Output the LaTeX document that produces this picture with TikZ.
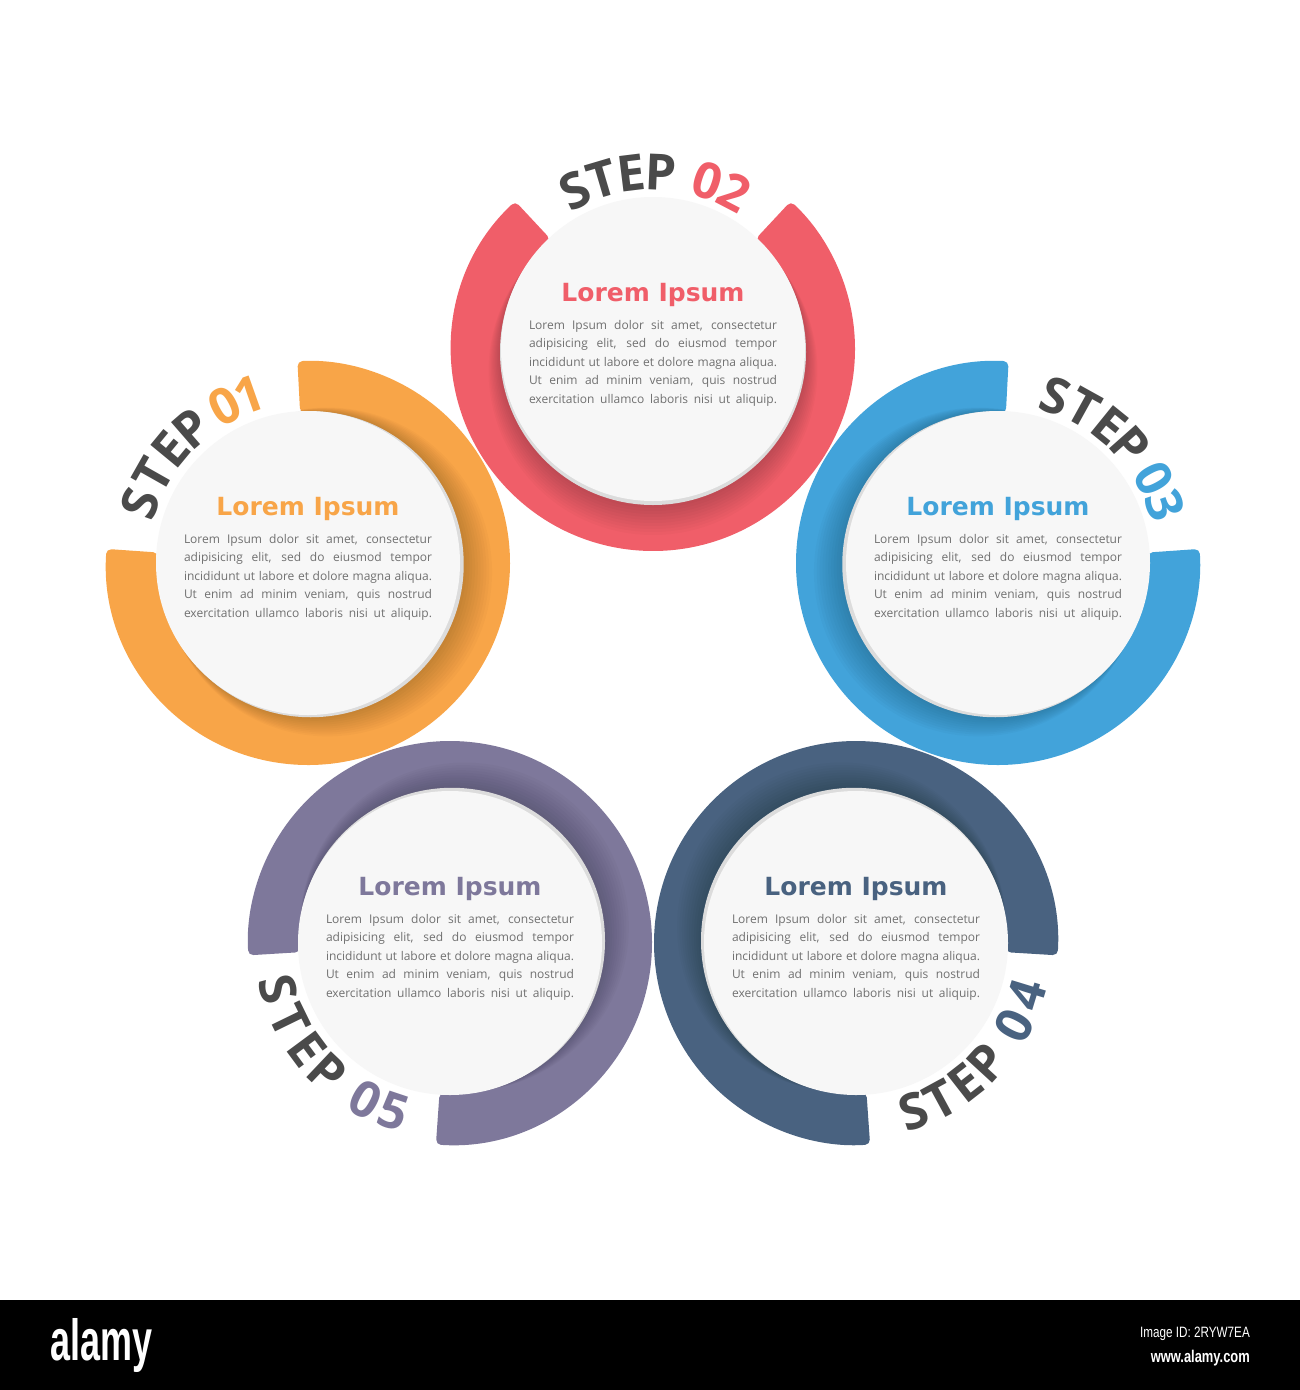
\documentclass[tikz,border=0pt]{standalone}
\usepackage{fontspec}
\setmainfont{Open Sans}
\newfontfamily\titlefont{DejaVu Sans}
\newfontfamily\stepfont{Open Sans}
\newfontfamily\logofont{Liberation Sans}
\definecolor{cOrange}{HTML}{F8A548}
\definecolor{cRed}{HTML}{F05E69}
\definecolor{cBlue}{HTML}{42A3DA}
\definecolor{cNavy}{HTML}{496280}
\definecolor{cPurple}{HTML}{7E789B}
\definecolor{stepgray}{HTML}{4A4A4A}
\definecolor{bodygray}{HTML}{707070}
\definecolor{disc}{HTML}{F7F7F7}
\definecolor{rim}{HTML}{DCDCDC}
\tikzset{
  ltitle/.style={font=\titlefont\bfseries\fontsize{25}{25}\selectfont, inner sep=0pt, anchor=base},
  bodyline/.style={font=\fontsize{12}{12}\selectfont, text=bodygray, inner sep=0pt, anchor=base},
  steptxt/.style={font=\stepfont\bfseries\fontsize{50}{50}\selectfont, inner sep=0pt, anchor=center},
}
% #1 name, #2 cx, #3 cy, #4 colour, #5 start angle, #6 end angle, #7 shadow direction
\newcommand\ringdisc[7]{%
  \begin{scope}[shift={(#2,#3)}]
    \fill[#4, rounded corners=5pt] (#5:202) arc[start angle=#5, end angle=#6, radius=202]
      -- (#6:150) arc[start angle=#6, end angle=#5, radius=150] -- cycle;
    \begin{scope}
      \clip (#5:202) arc[start angle=#5, end angle=#6, radius=202]
        -- (#6:150) arc[start angle=#6, end angle=#5, radius=150] -- cycle;
      \foreach \k in {1,...,12}{\fill[black, opacity=0.018] (#7:{1.8*\k}) circle[radius={150+1.2*\k}];}
    \end{scope}
    \fill[rim] (#7:3) circle[radius=153];
    \node[circle, fill=disc, minimum size=304pt, inner sep=0pt] (#1) at (0,0) {};
  \end{scope}}
% #1 name, #2 cx, #3 cy, #4 colour
\newcommand\disctext[4]{%
  \node[ltitle, text=#4] (#1-title) at (#2,{#3+48}) {Lorem Ipsum};
  \foreach \ln [count=\i] in {{Lorem Ipsum dolor sit amet, consectetur},
      {adipisicing elit, sed do eiusmod tempor},
      {incididunt ut labore et dolore magna aliqua.},
      {Ut enim ad minim veniam, quis nostrud},
      {exercitation ullamco laboris nisi ut aliquip.}}{%
    \node[bodyline] (#1-line\i) at (#2,{#3+20-18.6*(\i-1)}) {\makebox[248pt][s]{\ln}};}}
% #1 name, #2 cx, #3 cy, #4 colour, #5 rotation offset, #6 radius, #7 list
\newcommand\steplabel[7]{%
  \begin{scope}[shift={(#2,#3)}]
    \foreach \ch/\ang [count=\i] in {#7}{%
      \ifnum\i>4 \def\cc{#4}\else\def\cc{stepgray}\fi
      \node[steptxt, text=\cc, rotate={\ang#5}] (#1-\i) at (\ang:#6) {\ch};}
  \end{scope}}
\begin{document}
\begin{tikzpicture}[x=1pt,y=1pt]
  \useasboundingbox (0,0) rectangle (1300,-1390);
  \fill[white] (0,0) rectangle (1300,-1390);
  % rings and discs
  \ringdisc{d4}{856}{-943}{cNavy}{-3.5}{274}{132}
  \ringdisc{d5}{450}{-943}{cPurple}{-94}{183.5}{48}
  \ringdisc{d1}{308}{-563}{cOrange}{176}{453}{-24.5}
  \ringdisc{d2}{653}{-349}{cRed}{133}{407}{-90}
  \ringdisc{d3}{998}{-563}{cBlue}{87}{364}{204.5}
  % texts
  \disctext{c1}{308}{-563}{cOrange}
  \disctext{c2}{653}{-349}{cRed}
  \disctext{c3}{998}{-563}{cBlue}
  \disctext{c4}{856}{-943}{cNavy}
  \disctext{c5}{450}{-943}{cPurple}
  % step labels
  \steplabel{s1}{308}{-563}{cOrange}{-90}{178}{S/160.5,T/150.5,E/140.5,P/131,0/118,1/109.5}
  \steplabel{s2}{653}{-349}{cRed}{-90}{177}{S/116,T/106.5,E/97,P/87.5,0/72,2/62.5}
  \steplabel{s3}{998}{-563}{cBlue}{-90}{177}{S/71,T/61,E/51,P/41.5,0/28.5,3/19}
  \steplabel{s4}{856}{-943}{cNavy}{+90}{178}{S/-71,T/-61.5,E/-52,P/-42.5,0/-27.5,4/-17}
  \steplabel{s5}{450}{-943}{cPurple}{+90}{178}{S/195,T/206,E/216.5,P/226.5,0/241.5,5/251.5}
  % bottom bar
  \fill[black] (0,-1300) rectangle (1300,-1390);
  \node[text=white, font=\logofont\bfseries\fontsize{58}{58}\selectfont, xscale=0.62, inner sep=0pt, anchor=base west] (logo) at (50,-1360) {alamy};
  \node[text=white, font=\logofont\fontsize{15}{15}\selectfont, xscale=0.78, inner sep=0pt, anchor=base east] (imgid) at (1250,-1337) {Image ID: 2RYW7EA};
  \node[text=white, font=\logofont\bfseries\fontsize{17}{17}\selectfont, xscale=0.76, inner sep=0pt, anchor=base east] (www) at (1250,-1362) {www.alamy.com};
\end{tikzpicture}
\end{document}
